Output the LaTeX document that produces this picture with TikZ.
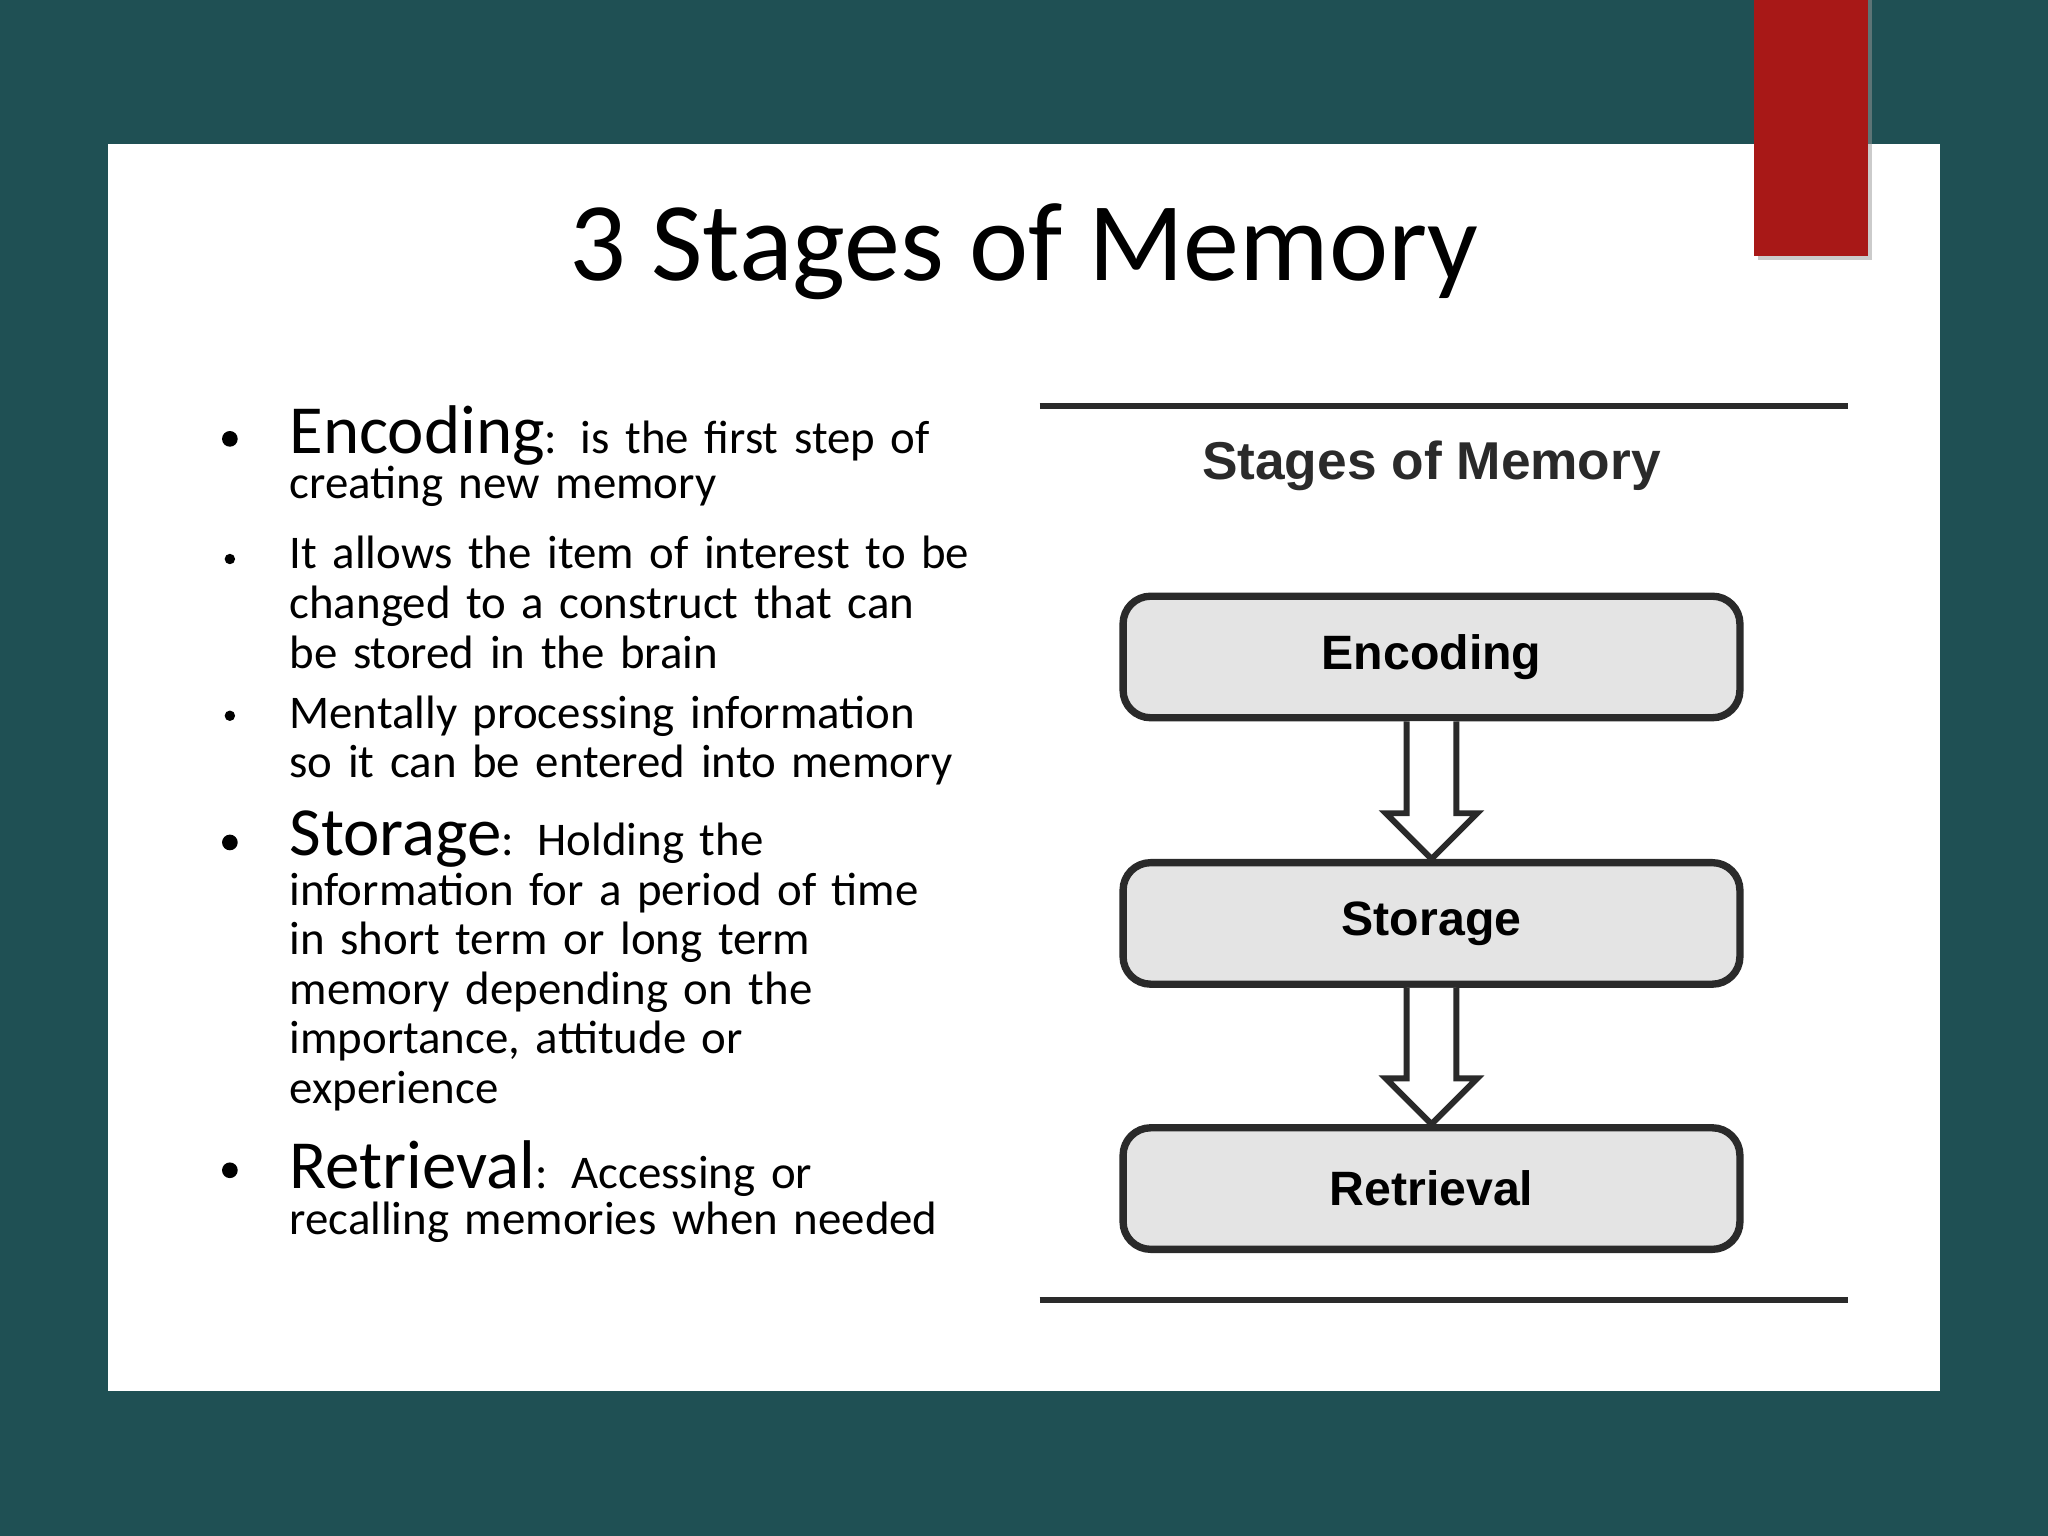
\documentclass[tikz,border=0pt]{standalone}
\usepackage{fontspec}
\setmainfont{Carlito}
\newfontfamily\arialf{Liberation Sans}
\definecolor{bgteal}{HTML}{1F5054}
\definecolor{redbar}{HTML}{A81817}
\definecolor{boxgray}{HTML}{E4E4E4}
\definecolor{dk}{HTML}{2A2A2A}
\tikzset{
  stagebox/.style={draw=dk,line width=1.6pt,rounded corners=6pt,fill=boxgray,minimum width=4.72cm,minimum height=0.93cm,font=\arialf\bfseries\fontsize{10.5}{12}\selectfont},
  item/.style={anchor=north west,align=left,inner sep=0pt,text width=6cm,font=\fontsize{10.2}{10.8}\selectfont}
}
\newcommand{\bigword}[1]{{\fontsize{15}{15}\selectfont #1}}
\begin{document}
\begin{tikzpicture}[x=0.01cm,y=-0.01cm]
\useasboundingbox (0,0) rectangle (1568,1176);
\fill[bgteal] (0,0) rectangle (1568,1176);
\fill[white] (83,110) rectangle (1485,1065);
\fill[black!40,opacity=0.5] (1346,0) rectangle (1433,199);
\fill[redbar] (1343,0) rectangle (1430,196);
\node[font=\fontsize{24.4}{26}\selectfont] (title) at (784,193) {3 Stages of Memory};
% bullets
\node[item] (b1) at (221,310) {\bigword{Encoding}: is the first step of\\[-1pt]creating new memory};
\node[item] (b2) at (221,410) {It allows the item of interest to be\\changed to a construct that can\\be stored in the brain};
\node[item] (b3) at (221,532) {Mentally processing information\\so it can be entered into memory};
\node[item] (b4) at (221,620) {\bigword{Storage}: Holding the\\information for a period of time\\in short term or long term\\memory depending on the\\importance, attitude or\\experience};
\node[item] (b5) at (221,873) {\bigword{Retrieval}: Accessing or\\[-1pt]recalling memories when needed};
\foreach \yy/\ss in {336/6,428/4,548/4,645/6,896/6}
  \fill[black] (176,\yy) circle (\ss*0.01cm);
% diagram
\draw[dk,line width=1.3pt] (796,311) -- (1415,311);
\draw[dk,line width=1.3pt] (796,995) -- (1415,995);
\node[font=\arialf\bfseries\fontsize{11.6}{13}\selectfont,text=dk] (dt) at (1096,357) {Stages of Memory};
\node[stagebox] (enc) at (1096,503) {Encoding};
\node[stagebox] (sto) at (1096,707) {Storage};
\node[stagebox] (ret) at (1096,910) {Retrieval};
\foreach \p/\q in {enc/sto,sto/ret}{
  \draw[dk,line width=1.3pt,fill=white,line join=miter]
    ([xshift=-0.19cm]\p.south) -- ([xshift=-0.19cm,yshift=0.35cm]\q.north)
    -- ([xshift=-0.35cm,yshift=0.35cm]\q.north) -- (\q.north)
    -- ([xshift=0.35cm,yshift=0.35cm]\q.north) -- ([xshift=0.19cm,yshift=0.35cm]\q.north)
    -- ([xshift=0.19cm]\p.south);
}
\end{tikzpicture}
\end{document}
